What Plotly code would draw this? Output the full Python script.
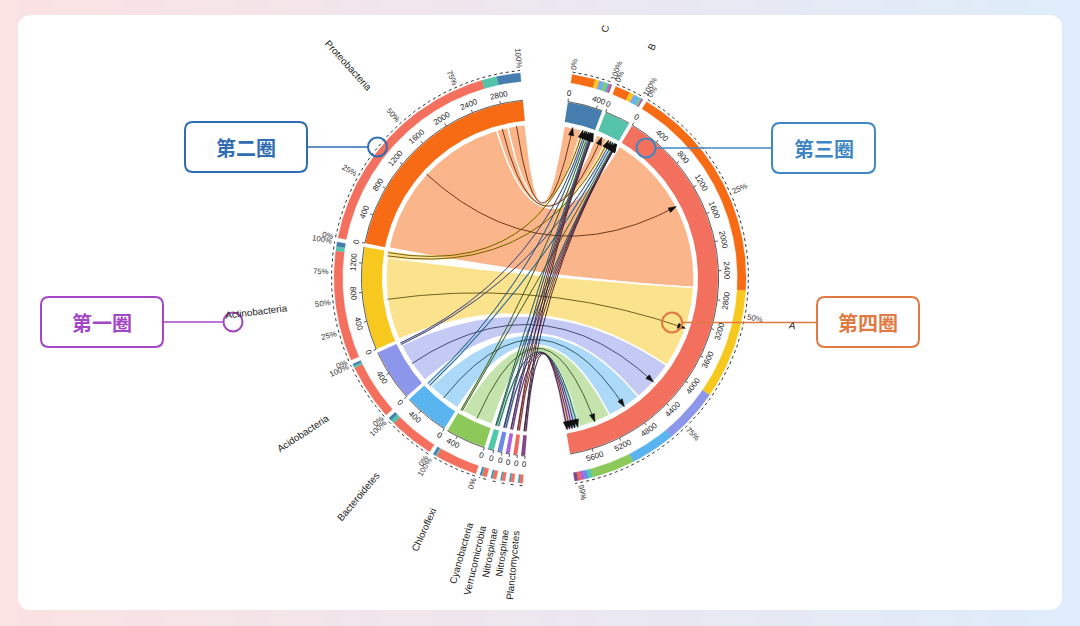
import numpy as np
import plotly.graph_objects as go

# ---------------- data ----------------
phyla = ["Proteobacteria", "Actinobacteria", "Acidobacteria", "Bacteroidetes",
         "Chloroflexi", "Cyanobacteria", "Verrucomicrobia", "Nitrospinae",
         "Nitrospirae", "Planctomycetes"]
groups = ["A", "B", "C"]
link_to_A = [2650, 1320, 670, 540, 510, 55, 45, 40, 40, 40]
link_to_B = [180, 55, 25, 50, 15, 8, 6, 5, 5, 5]
link_to_C = [280, 50, 25, 35, 30, 20, 14, 10, 10, 10]
phyla_colors = ["#F76B15", "#F7C81E", "#8C96EB", "#5AB4F0", "#8CC85A",
                "#50C8AA", "#6A8CE6", "#AA64DC", "#F0645A", "#82468C"]
group_colors = ["#F4705E", "#55C3AA", "#467DAF"]
tick_step = 400
pct_marks_full = [0, 25, 50, 75, 100]
pct_marks_ends = [0, 100]
pct_marks_A = [0, 25, 50, 75, 99]
ring_titles = ["第一圈", "第二圈", "第三圈", "第四圈"]

# ---------------- geometry / style ----------------
W, H = 1080, 626
CX, CY = 540.0, 278.0
R_LINK = 154.0
R_TR_IN, R_TR_OUT = 158.0, 178.0
R_TICKLAB = 185.5
R_RING_IN, R_RING_OUT = 197.5, 206.0
R_DOT = 208.5
R_PCT = 211.0
R_NAME = 254.0
BIG_GAP, SMALL_GAP = 14.5, 1.2
START = 81.0
FONT = "Liberation Sans, Arial, sans-serif"
CJK = "Noto Sans CJK SC"

CW = {'a': .556, 'b': .556, 'c': .5, 'd': .556, 'e': .556, 'f': .278, 'g': .556, 'h': .556,
      'i': .222, 'j': .222, 'k': .5, 'l': .222, 'm': .833, 'n': .556, 'o': .556, 'p': .556,
      'q': .556, 'r': .333, 's': .5, 't': .278, 'u': .556, 'v': .5, 'w': .722, 'x': .5,
      'y': .5, 'z': .5, '%': .889, 'A': .667, 'B': .667, 'C': .722, 'P': .667, 'N': .722,
      'V': .667}


def text_len(s, size):
    return sum(CW.get(ch, .556) for ch in s) * size


def hex2rgb(h):
    h = h.lstrip('#')
    return tuple(int(h[k:k + 2], 16) for k in (0, 2, 4))


def rgba(h, a):
    r, g, b = hex2rgb(h)
    return f"rgba({r},{g},{b},{a})"


def dark(h, f=0.4):
    r, g, b = hex2rgb(h)
    return f"rgb({int(r * f)},{int(g * f)},{int(b * f)})"


def pt(r, deg):
    a = np.radians(deg)
    return CX + r * np.cos(a), CY - r * np.sin(a)


def arc(r, d1, d2, n=None):
    if n is None:
        n = max(3, int(abs(d2 - d1) * 3) + 3)
    t = np.radians(np.linspace(d1, d2, n))
    return list(CX + r * np.cos(t)), list(CY - r * np.sin(t))


def wedge(r1, r2, d1, d2):
    xo, yo = arc(r2, d1, d2)
    xi, yi = arc(r1, d2, d1)
    return xo + xi + xo[:1], yo + yi + yo[:1]


def bez(p0, p2, n=70):
    t = np.linspace(0, 1, n)
    x = (1 - t) ** 2 * p0[0] + 2 * (1 - t) * t * CX + t ** 2 * p2[0]
    y = (1 - t) ** 2 * p0[1] + 2 * (1 - t) * t * CY + t ** 2 * p2[1]
    return list(x), list(y)


def norm_angle(a):
    a = (a + 180) % 360 - 180
    if a > 90:
        a -= 180
    elif a <= -90:
        a += 180
    return a


def radial_angle(deg):
    return norm_angle(-deg)


def tangent_angle(deg):
    return norm_angle(90 - deg)


def rrect(x0, y0, x1, y1, r):
    return (f"M{x0 + r},{y0} L{x1 - r},{y0} Q{x1},{y0} {x1},{y0 + r} L{x1},{y1 - r} "
            f"Q{x1},{y1} {x1 - r},{y1} L{x0 + r},{y1} Q{x0},{y1} {x0},{y1 - r} "
            f"L{x0},{y0 + r} Q{x0},{y0} {x0 + r},{y0} Z")


# ---------------- layout of sectors ----------------
vals = np.array([link_to_A, link_to_B, link_to_C], dtype=float).T  # phyla x groups
p_tot = vals.sum(axis=1)
g_tot = vals.sum(axis=0)
order = [("g", 2), ("g", 1), ("g", 0)] + [("p", i) for i in range(len(phyla) - 1, -1, -1)]
gaps = [SMALL_GAP, SMALL_GAP, BIG_GAP] + [SMALL_GAP] * (len(phyla) - 1) + [BIG_GAP]
unit = (360.0 - sum(gaps)) / (p_tot.sum() + g_tot.sum())

sec = {}
a = START
for (kind, i), g in zip(order, gaps):
    tot = g_tot[i] if kind == "g" else p_tot[i]
    sec[(kind, i)] = (a, a - tot * unit, tot)
    a = a - tot * unit - g


def link_span(kind, i, k):
    s, e, tot = sec[(kind, i)]
    seq = vals[i] if kind == "p" else vals[:, i]
    off = seq[:k].sum()
    w = seq[k]
    return s - off * unit, s - (off + w) * unit


def sector_info(kind, i):
    if kind == "p":
        return phyla[i], phyla_colors[i]
    return groups[i], group_colors[i]


fig = go.Figure()
shapes = []
annots = []

# ---------------- background ----------------
n_str = 60
c_left, c_right = (251, 226, 227), (222, 236, 251)
for k in range(n_str):
    f = (k + 0.5) / n_str
    col = tuple(int(round(c_left[m] + (c_right[m] - c_left[m]) * f)) for m in range(3))
    shapes.append(dict(type='rect', xref='x', yref='y', x0=W * k / n_str, x1=W * (k + 1) / n_str + 0.6,
                       y0=0, y1=H, fillcolor=f'rgb{col}', line=dict(width=0), layer='below'))
shapes.append(dict(type='path', xref='x', yref='y', path=rrect(18, 15, 1062, 610, 14),
                   fillcolor='white', line=dict(width=0), layer='below'))

# ---------------- chords (ribbons) ----------------
links = [(i, j, vals[i, j]) for i in range(len(phyla)) for j in range(len(groups))]
links.sort(key=lambda t: -t[2])
for i, j, v in links:
    a1, a2 = link_span("p", i, j)
    b1, b2 = link_span("g", j, i)
    x1, y1 = arc(R_LINK, a1, a2)
    bx1, by1 = bez(pt(R_LINK, a2), pt(R_LINK, b1))
    x2, y2 = arc(R_LINK, b1, b2)
    bx2, by2 = bez(pt(R_LINK, b2), pt(R_LINK, a1))
    X = x1 + bx1 + x2 + bx2
    Y = y1 + by1 + y2 + by2
    fig.add_trace(go.Scatter(x=X, y=Y, mode='lines', fill='toself',
                             fillcolor=rgba(phyla_colors[i], 0.5),
                             line=dict(color='white', width=1.4 if v >= 100 else 0),
                             hoverinfo='skip', showlegend=False))

# ---------------- arrow lines ----------------
for i in range(len(phyla)):
    LX, LY, AX, AY = [], [], [], []
    for j in range(len(groups)):
        a1, a2 = link_span("p", i, j)
        b1, b2 = link_span("g", j, i)
        m1, m2 = (a1 + a2) / 2, (b1 + b2) / 2
        lx, ly = bez(pt(R_LINK, m1), pt(R_LINK - 3, m2), n=90)
        LX += lx + [None]
        LY += ly + [None]
        rb = R_LINK - 8
        d = np.degrees(2.6 / rb)
        tip = pt(R_LINK, m2)
        p1 = pt(rb, m2 + d)
        p2 = pt(rb, m2 - d)
        AX += [tip[0], p1[0], p2[0], tip[0], None]
        AY += [tip[1], p1[1], p2[1], tip[1], None]
    col = dark(phyla_colors[i])
    fig.add_trace(go.Scatter(x=LX, y=LY, mode='lines', line=dict(color=col, width=0.9),
                             hoverinfo='skip', showlegend=False))
    fig.add_trace(go.Scatter(x=AX, y=AY, mode='lines', fill='toself', fillcolor='#111111',
                             line=dict(color='#111111', width=0.5),
                             hoverinfo='skip', showlegend=False))

# ---------------- track (inner blocks with axis) ----------------
axX, axY = [], []
for (kind, i), (s, e, tot) in sec.items():
    name, color = sector_info(kind, i)
    wx, wy = wedge(R_TR_IN, R_TR_OUT, s, e)
    fig.add_trace(go.Scatter(x=wx, y=wy, mode='lines', fill='toself', fillcolor=color,
                             line=dict(color=color, width=0), hoverinfo='skip', showlegend=False))
    ax_, ay_ = arc(R_TR_OUT + 0.6, s, e)
    axX += ax_ + [None]
    axY += ay_ + [None]
    for v in range(0, int(tot) + 1, tick_step):
        ang = s - v * unit
        p0 = pt(R_TR_OUT + 0.6, ang)
        p1 = pt(R_TR_OUT + 3.6, ang)
        axX += [p0[0], p1[0], None]
        axY += [p0[1], p1[1], None]
        tx, ty = pt(R_TICKLAB + 1.5, ang)
        annots.append(dict(x=tx, y=ty, xref='x', yref='y', text=str(v), showarrow=False,
                           textangle=tangent_angle(ang), xanchor='center', yanchor='middle',
                           font=dict(family=FONT, size=8, color='#222222')))
fig.add_trace(go.Scatter(x=axX, y=axY, mode='lines', line=dict(color='#333333', width=0.8),
                         hoverinfo='skip', showlegend=False))

# ---------------- outer ring (composition) ----------------
ring_polys = {}
for (kind, i), (s, e, tot) in sec.items():
    if kind == "p":
        parts, cols = vals[i], group_colors
    else:
        parts, cols = vals[:, i], phyla_colors
    off = 0.0
    for w, c in zip(parts, cols):
        d1 = s - off * unit
        d2 = s - (off + w) * unit
        off += w
        px, py = wedge(R_RING_IN, R_RING_OUT, d1, d2)
        X, Y = ring_polys.setdefault(c, ([], []))
        X += px + [None]
        Y += py + [None]
for c, (X, Y) in ring_polys.items():
    fig.add_trace(go.Scatter(x=X, y=Y, mode='lines', fill='toself', fillcolor=c,
                             line=dict(color=c, width=0.3), hoverinfo='skip', showlegend=False))

# dotted axis of the ring + percentage labels
dX, dY = [], []
for (kind, i), (s, e, tot) in sec.items():
    x_, y_ = arc(R_DOT, s, e)
    dX += x_ + [None]
    dY += y_ + [None]
    if kind == "g":
        marks = pct_marks_A if i == 0 else pct_marks_ends
    else:
        marks = pct_marks_full if i < 2 else (pct_marks_ends if i < 5 else [])
    for pval in marks:
        ang = s - (pval / 100.0) * (s - e)
        txt = f"{pval}%"
        L = text_len(txt, 7.8)
        tx, ty = pt(R_PCT + L / 2, ang)
        annots.append(dict(x=tx, y=ty, xref='x', yref='y', text=txt, showarrow=False,
                           textangle=radial_angle(ang), xanchor='center', yanchor='middle',
                           font=dict(family=FONT, size=7.8, color='#333333')))
fig.add_trace(go.Scatter(x=dX, y=dY, mode='lines', line=dict(color='#333333', width=1, dash='dot'),
                         hoverinfo='skip', showlegend=False))

# ---------------- sector names ----------------
for (kind, i), (s, e, tot) in sec.items():
    name, color = sector_info(kind, i)
    mid = (s + e) / 2
    L = text_len(name, 9.8)
    tx, ty = pt(R_NAME + L / 2, mid)
    annots.append(dict(x=tx, y=ty, xref='x', yref='y', text=name, showarrow=False,
                       textangle=radial_angle(mid), xanchor='center', yanchor='middle',
                       font=dict(family=FONT, size=9.8, color='#222222')))

# ---------------- ring title call-outs ----------------
callouts = [
    # box x0, y0, x1, y1, colour, title, circle centre, circle r, line from x, line to x, line y
    (41, 297, 163, 347, "#A447C6", ring_titles[0], (233, 322), 9.5, 163, 223.5, 322),
    (185, 122, 307, 172, "#2F6CB3", ring_titles[1], (377.5, 147), 9.5, 307, 368, 147),
    (772, 123, 875, 173, "#3F87C4", ring_titles[2], (646, 148), 9.5, 655.5, 772, 148),
    (817, 297, 919, 347, "#E07A42", ring_titles[3], (672, 322.5), 10, 682, 817, 322.5),
]
for x0, y0, x1, y1, col, title, cc, cr, lx0, lx1, ly in callouts:
    shapes.append(dict(type='path', xref='x', yref='y', path=rrect(x0, y0, x1, y1, 8),
                       fillcolor='white', line=dict(color=col, width=2), layer='above'))
    shapes.append(dict(type='line', xref='x', yref='y', x0=lx0, x1=lx1, y0=ly, y1=ly,
                       line=dict(color=col, width=1.6), layer='above'))
    shapes.append(dict(type='circle', xref='x', yref='y', x0=cc[0] - cr, x1=cc[0] + cr,
                       y0=cc[1] - cr, y1=cc[1] + cr, line=dict(color=col, width=2), layer='above'))
    annots.append(dict(x=(x0 + x1) / 2, y=(y0 + y1) / 2, xref='x', yref='y', text=f"<b>{title}</b>",
                       showarrow=False, xanchor='center', yanchor='middle',
                       font=dict(family=CJK, size=20, color=col)))

fig.update_layout(
    width=W, height=H, margin=dict(l=0, r=0, t=0, b=0),
    paper_bgcolor='white', plot_bgcolor='white', showlegend=False,
    xaxis=dict(range=[0, W], visible=False, fixedrange=True),
    yaxis=dict(range=[H, 0], visible=False, fixedrange=True),
    shapes=shapes, annotations=annots,
)
fig.write_html("out.html", post_script="document.body.style.margin='0';",
               config={'displayModeBar': False})
